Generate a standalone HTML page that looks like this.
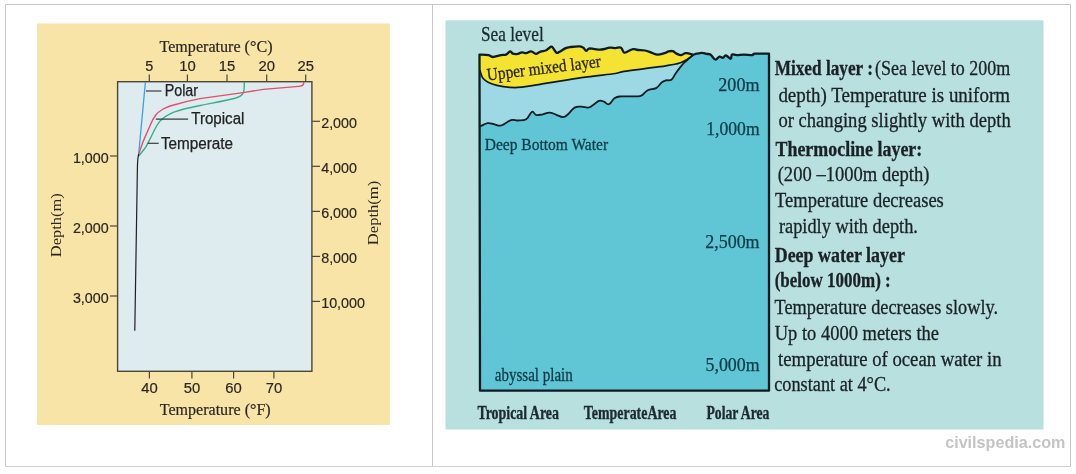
<!DOCTYPE html>
<html><head><meta charset="utf-8"><title>Ocean temperature</title>
<style>html,body{margin:0;padding:0;background:#fff;width:1076px;height:474px;overflow:hidden;font-family:"Liberation Sans",sans-serif}</style></head>
<body>
<svg width="1076" height="474" viewBox="0 0 1076 474" style="position:absolute;left:0;top:0;display:block;will-change:transform;opacity:0.999;filter:blur(0.4px)">
<rect x="0" y="0" width="1076" height="474" fill="#ffffff"/>
<path d="M5.5 466.5 L5.5 4.5 L1070.5 4.5 L1070.5 466.5" fill="none" stroke="#c6c6c6" stroke-width="1"/>
<line x1="5" y1="466.5" x2="1071" y2="466.5" stroke="#d2d2d2" stroke-width="1"/>
<line x1="432.5" y1="5" x2="432.5" y2="466" stroke="#c8c8c8" stroke-width="1"/>
<rect x="37" y="23.5" width="353" height="401.5" fill="#f7e4a6"/>
<rect x="117.6" y="81.7" width="194.3" height="289.6" fill="#deebef" stroke="#4b4636" stroke-width="1.4"/>
<line x1="149.3" y1="74.5" x2="149.3" y2="81.5" stroke="#4b4636" stroke-width="1.2"/>
<text x="149.3" y="71.2" font-family="Liberation Sans, sans-serif" font-size="15.5" font-weight="normal" fill="#2b2620" text-anchor="middle" textLength="8" lengthAdjust="spacingAndGlyphs" stroke="#2b2620" stroke-width="0.2">5</text>
<line x1="187.4" y1="74.5" x2="187.4" y2="81.5" stroke="#4b4636" stroke-width="1.2"/>
<text x="187.4" y="71.2" font-family="Liberation Sans, sans-serif" font-size="15.5" font-weight="normal" fill="#2b2620" text-anchor="middle" textLength="16.5" lengthAdjust="spacingAndGlyphs" stroke="#2b2620" stroke-width="0.2">10</text>
<line x1="227.0" y1="74.5" x2="227.0" y2="81.5" stroke="#4b4636" stroke-width="1.2"/>
<text x="227.0" y="71.2" font-family="Liberation Sans, sans-serif" font-size="15.5" font-weight="normal" fill="#2b2620" text-anchor="middle" textLength="16.5" lengthAdjust="spacingAndGlyphs" stroke="#2b2620" stroke-width="0.2">15</text>
<line x1="266.7" y1="74.5" x2="266.7" y2="81.5" stroke="#4b4636" stroke-width="1.2"/>
<text x="266.7" y="71.2" font-family="Liberation Sans, sans-serif" font-size="15.5" font-weight="normal" fill="#2b2620" text-anchor="middle" textLength="16.5" lengthAdjust="spacingAndGlyphs" stroke="#2b2620" stroke-width="0.2">20</text>
<line x1="305.7" y1="74.5" x2="305.7" y2="81.5" stroke="#4b4636" stroke-width="1.2"/>
<text x="305.7" y="71.2" font-family="Liberation Sans, sans-serif" font-size="15.5" font-weight="normal" fill="#2b2620" text-anchor="middle" textLength="16.5" lengthAdjust="spacingAndGlyphs" stroke="#2b2620" stroke-width="0.2">25</text>
<line x1="149.4" y1="371.5" x2="149.4" y2="378.5" stroke="#4b4636" stroke-width="1.2"/>
<text x="149.4" y="393.2" font-family="Liberation Sans, sans-serif" font-size="15.5" font-weight="normal" fill="#2b2620" text-anchor="middle" textLength="16.5" lengthAdjust="spacingAndGlyphs" stroke="#2b2620" stroke-width="0.2">40</text>
<line x1="191.9" y1="371.5" x2="191.9" y2="378.5" stroke="#4b4636" stroke-width="1.2"/>
<text x="191.9" y="393.2" font-family="Liberation Sans, sans-serif" font-size="15.5" font-weight="normal" fill="#2b2620" text-anchor="middle" textLength="16.5" lengthAdjust="spacingAndGlyphs" stroke="#2b2620" stroke-width="0.2">50</text>
<line x1="233.6" y1="371.5" x2="233.6" y2="378.5" stroke="#4b4636" stroke-width="1.2"/>
<text x="233.6" y="393.2" font-family="Liberation Sans, sans-serif" font-size="15.5" font-weight="normal" fill="#2b2620" text-anchor="middle" textLength="16.5" lengthAdjust="spacingAndGlyphs" stroke="#2b2620" stroke-width="0.2">60</text>
<line x1="273.9" y1="371.5" x2="273.9" y2="378.5" stroke="#4b4636" stroke-width="1.2"/>
<text x="273.9" y="393.2" font-family="Liberation Sans, sans-serif" font-size="15.5" font-weight="normal" fill="#2b2620" text-anchor="middle" textLength="16.5" lengthAdjust="spacingAndGlyphs" stroke="#2b2620" stroke-width="0.2">70</text>
<line x1="110" y1="156" x2="117" y2="156" stroke="#4b4636" stroke-width="1.2"/>
<text x="108.7" y="162.8" font-family="Liberation Sans, sans-serif" font-size="15.5" font-weight="normal" fill="#2b2620" text-anchor="end" textLength="35.8" lengthAdjust="spacingAndGlyphs" stroke="#2b2620" stroke-width="0.2">1,000</text>
<line x1="110" y1="226" x2="117" y2="226" stroke="#4b4636" stroke-width="1.2"/>
<text x="108.7" y="232.8" font-family="Liberation Sans, sans-serif" font-size="15.5" font-weight="normal" fill="#2b2620" text-anchor="end" textLength="35.8" lengthAdjust="spacingAndGlyphs" stroke="#2b2620" stroke-width="0.2">2,000</text>
<line x1="110" y1="296" x2="117" y2="296" stroke="#4b4636" stroke-width="1.2"/>
<text x="108.7" y="302.8" font-family="Liberation Sans, sans-serif" font-size="15.5" font-weight="normal" fill="#2b2620" text-anchor="end" textLength="35.8" lengthAdjust="spacingAndGlyphs" stroke="#2b2620" stroke-width="0.2">3,000</text>
<line x1="312" y1="121.3" x2="320" y2="121.3" stroke="#4b4636" stroke-width="1.2"/>
<text x="321.2" y="127.6" font-family="Liberation Sans, sans-serif" font-size="15.5" font-weight="normal" fill="#2b2620" text-anchor="start" textLength="35.8" lengthAdjust="spacingAndGlyphs" stroke="#2b2620" stroke-width="0.2">2,000</text>
<line x1="312" y1="166.3" x2="320" y2="166.3" stroke="#4b4636" stroke-width="1.2"/>
<text x="321.2" y="172.60000000000002" font-family="Liberation Sans, sans-serif" font-size="15.5" font-weight="normal" fill="#2b2620" text-anchor="start" textLength="35.8" lengthAdjust="spacingAndGlyphs" stroke="#2b2620" stroke-width="0.2">4,000</text>
<line x1="312" y1="211.4" x2="320" y2="211.4" stroke="#4b4636" stroke-width="1.2"/>
<text x="321.2" y="217.70000000000002" font-family="Liberation Sans, sans-serif" font-size="15.5" font-weight="normal" fill="#2b2620" text-anchor="start" textLength="35.8" lengthAdjust="spacingAndGlyphs" stroke="#2b2620" stroke-width="0.2">6,000</text>
<line x1="312" y1="256.4" x2="320" y2="256.4" stroke="#4b4636" stroke-width="1.2"/>
<text x="321.2" y="262.7" font-family="Liberation Sans, sans-serif" font-size="15.5" font-weight="normal" fill="#2b2620" text-anchor="start" textLength="35.8" lengthAdjust="spacingAndGlyphs" stroke="#2b2620" stroke-width="0.2">8,000</text>
<line x1="312" y1="301.4" x2="320" y2="301.4" stroke="#4b4636" stroke-width="1.2"/>
<text x="321.2" y="307.7" font-family="Liberation Sans, sans-serif" font-size="15.5" font-weight="normal" fill="#2b2620" text-anchor="start" textLength="43.8" lengthAdjust="spacingAndGlyphs" stroke="#2b2620" stroke-width="0.2">10,000</text>
<text x="216" y="52" font-family="Liberation Serif, serif" font-size="16" font-weight="normal" fill="#2b2620" text-anchor="middle" textLength="113" lengthAdjust="spacingAndGlyphs" stroke="#2b2620" stroke-width="0.2">Temperature (°C)</text>
<text x="215.2" y="414.6" font-family="Liberation Serif, serif" font-size="16" font-weight="normal" fill="#2b2620" text-anchor="middle" textLength="111" lengthAdjust="spacingAndGlyphs" stroke="#2b2620" stroke-width="0.2">Temperature (°F)</text>
<text x="0" y="0" font-family="Liberation Serif, serif" font-size="15.5" font-weight="normal" fill="#2b2620" text-anchor="middle" textLength="63.8" lengthAdjust="spacingAndGlyphs" transform="translate(61.2,225.3) rotate(-90)">Depth(m)</text>
<text x="0" y="0" font-family="Liberation Serif, serif" font-size="15.5" font-weight="normal" fill="#2b2620" text-anchor="middle" textLength="64.3" lengthAdjust="spacingAndGlyphs" transform="translate(378.3,213) rotate(-90)">Depth(m)</text>
<path d="M145.4 82 L138.7 154" fill="none" stroke="#3da0d8" stroke-width="1.3"/>
<path d="M244.3 82 L244.2 88 C244 94 242 96 236 98 C225 101 212 103 200 105.5 C190 107.5 180 110 173.8 112.2 C167 115 163 118 159.6 121.6 C156 126 155 129 153 133 L147.3 144.4 C145 149 142 152 138.7 156" fill="none" stroke="#35b08a" stroke-width="1.4"/>
<path d="M303.8 82 L303.5 84 C303 86 301 86.2 298.7 86.4 L263.3 89.4 L243 92.6 L200 98.6 C190 100.5 180 103 171.9 105.5 C166 107.5 164 108.5 162.4 109.5 C159 111.5 157 113.5 155.8 115 C153 118.5 151.5 122 150.1 125.4 L143.5 140.6 L138.7 154" fill="none" stroke="#e0506a" stroke-width="1.4"/>
<path d="M138.7 154 C137.6 158 137.5 162 137.4 168 L134.8 330.7" fill="none" stroke="#231f20" stroke-width="1.2"/>
<line x1="146" y1="91" x2="161.5" y2="91" stroke="#3a3a3a" stroke-width="1.2"/>
<line x1="155.8" y1="119.2" x2="188.1" y2="119.2" stroke="#3a3a3a" stroke-width="1.2"/>
<line x1="147.6" y1="143.3" x2="158.7" y2="143.3" stroke="#3a3a3a" stroke-width="1.2"/>
<text x="164.7" y="96.4" font-family="Liberation Sans, sans-serif" font-size="16" font-weight="normal" fill="#222222" text-anchor="start" textLength="33.4" lengthAdjust="spacingAndGlyphs" stroke="#222222" stroke-width="0.25">Polar</text>
<text x="191.3" y="123.8" font-family="Liberation Sans, sans-serif" font-size="16" font-weight="normal" fill="#222222" text-anchor="start" textLength="53.1" lengthAdjust="spacingAndGlyphs" stroke="#222222" stroke-width="0.25">Tropical</text>
<text x="160.9" y="148.7" font-family="Liberation Sans, sans-serif" font-size="16" font-weight="normal" fill="#222222" text-anchor="start" textLength="72.1" lengthAdjust="spacingAndGlyphs" stroke="#222222" stroke-width="0.25">Temperate</text>
<rect x="445.5" y="20.3" width="598" height="409.2" fill="#b8e0df"/>
<path d="M479.5 54.6 C481.3 54.7 485.9 54.6 488.5 55.1 C491.1 55.6 490.2 57.0 492.7 57 C495.2 57.0 498.4 55.6 501.1 55.1 C503.8 54.6 504.2 55.3 506 54.6 C507.8 53.9 508.8 51.6 510.2 51.4 C511.6 51.2 511.4 53.2 512.9 53.7 C514.4 54.2 516.0 54.2 517.8 53.9 C519.6 53.6 520.3 52.4 522 52.3 C523.7 52.2 524.4 53.4 526.2 53.2 C528.0 53.0 529.2 51.3 531.1 51.4 C533.0 51.5 534.1 53.8 535.9 53.9 C537.7 54.0 538.1 52.5 540.1 51.8 C542.1 51.1 544.0 51.1 545.7 50.5 C547.4 49.9 547.2 49.4 548.5 48.6 C549.8 47.8 550.5 45.9 552 46.7 C553.5 47.5 554.7 51.5 556.2 52.5 C557.7 53.5 557.8 52.6 559.6 51.8 C561.4 51.0 563.0 49.4 565.2 48.4 C567.4 47.4 568.0 47.4 570.8 47 C573.6 46.6 576.7 46.2 579.2 46.3 C581.7 46.4 581.9 46.8 583.3 47.7 C584.7 48.6 585.0 50.7 586.1 50.9 C587.2 51.1 587.2 49.0 588.9 48.6 C590.6 48.2 592.0 48.9 594.5 49.1 C597.0 49.3 598.4 49.8 601.5 49.5 C604.6 49.2 607.0 48.0 609.8 47.7 C612.6 47.4 613.2 48.1 615.4 48.1 C617.6 48.1 619.3 46.8 621 47.7 C622.7 48.6 622.6 51.8 624 52.5 C625.4 53.2 626.4 51.9 628.2 51.2 C630.0 50.5 631.2 49.3 633.1 49.1 C635.0 48.9 635.5 49.7 637.9 50 C640.3 50.3 642.1 49.9 644.9 50.5 C647.7 51.1 649.4 52.0 651.9 52.8 C654.4 53.6 655.0 54.5 657.5 54.6 C660.0 54.7 662.2 53.8 664.4 53.2 C666.6 52.6 666.9 51.8 668.6 51.4 C670.3 51.0 671.1 50.7 672.8 51.2 C674.5 51.7 675.3 53.1 677 53.9 C678.7 54.7 679.5 55.2 681.2 55.1 C682.9 55.0 683.6 53.5 685.3 53.2 C687.0 52.9 688.0 53.4 689.5 53.7 C691.0 54.0 691.6 54.6 693 54.6 C694.4 54.6 694.7 54.1 696.5 53.7 C698.3 53.3 700.1 52.8 702.1 52.8 C704.1 52.8 704.6 53.5 706.3 53.9 C708.0 54.3 708.6 53.5 710.4 54.6 C712.2 55.7 713.5 59.1 715.3 59.5 C717.1 59.9 718.0 57.0 719.5 56.7 C721.0 56.4 721.7 58.1 723 57.8 C724.3 57.5 724.3 55.1 725.8 55.3 C727.3 55.5 729.5 58.9 730.7 58.8 C731.9 58.7 730.8 55.3 732 54.6 C733.2 53.9 734.5 55.1 736.9 55.1 C739.3 55.1 740.8 54.6 743.9 54.6 C747.0 54.6 750.1 55.3 752.3 55.1 C754.5 54.9 751.7 54.0 755 53.7 C758.3 53.4 766.2 53.7 769 53.7 L769 390.7 L480 390.7 Z" fill="#60c6d5"/>
<path d="M479.5 54.6 C481.3 54.7 485.9 54.6 488.5 55.1 C491.1 55.6 490.2 57.0 492.7 57 C495.2 57.0 498.4 55.6 501.1 55.1 C503.8 54.6 504.2 55.3 506 54.6 C507.8 53.9 508.8 51.6 510.2 51.4 C511.6 51.2 511.4 53.2 512.9 53.7 C514.4 54.2 516.0 54.2 517.8 53.9 C519.6 53.6 520.3 52.4 522 52.3 C523.7 52.2 524.4 53.4 526.2 53.2 C528.0 53.0 529.2 51.3 531.1 51.4 C533.0 51.5 534.1 53.8 535.9 53.9 C537.7 54.0 538.1 52.5 540.1 51.8 C542.1 51.1 544.0 51.1 545.7 50.5 C547.4 49.9 547.2 49.4 548.5 48.6 C549.8 47.8 550.5 45.9 552 46.7 C553.5 47.5 554.7 51.5 556.2 52.5 C557.7 53.5 557.8 52.6 559.6 51.8 C561.4 51.0 563.0 49.4 565.2 48.4 C567.4 47.4 568.0 47.4 570.8 47 C573.6 46.6 576.7 46.2 579.2 46.3 C581.7 46.4 581.9 46.8 583.3 47.7 C584.7 48.6 585.0 50.7 586.1 50.9 C587.2 51.1 587.2 49.0 588.9 48.6 C590.6 48.2 592.0 48.9 594.5 49.1 C597.0 49.3 598.4 49.8 601.5 49.5 C604.6 49.2 607.0 48.0 609.8 47.7 C612.6 47.4 613.2 48.1 615.4 48.1 C617.6 48.1 619.3 46.8 621 47.7 C622.7 48.6 622.6 51.8 624 52.5 C625.4 53.2 626.4 51.9 628.2 51.2 C630.0 50.5 631.2 49.3 633.1 49.1 C635.0 48.9 635.5 49.7 637.9 50 C640.3 50.3 642.1 49.9 644.9 50.5 C647.7 51.1 649.4 52.0 651.9 52.8 C654.4 53.6 655.0 54.5 657.5 54.6 C660.0 54.7 662.2 53.8 664.4 53.2 C666.6 52.6 666.9 51.8 668.6 51.4 C670.3 51.0 671.1 50.7 672.8 51.2 C674.5 51.7 675.3 53.1 677 53.9 C678.7 54.7 679.5 55.2 681.2 55.1 C682.9 55.0 683.6 53.5 685.3 53.2 C687.0 52.9 688.0 53.4 689.5 53.7 C691.0 54.0 692.3 54.4 693 54.6 L693.7 54.6 C692.9 55.3 691.5 56.4 689.5 58.1 C687.5 59.8 685.8 61.0 683.9 63 C682.0 65.0 681.5 65.8 679.8 67.9 C678.1 70.0 677.3 71.1 675.6 73.5 C673.9 75.9 673.4 78.3 671.4 79.7 C669.4 81.1 667.8 79.8 665.8 80.4 C663.8 81.0 663.5 81.0 661.6 82.5 C659.7 84.0 658.9 86.6 656.1 88.1 C653.3 89.6 650.5 88.8 647.7 90.2 C644.9 91.6 644.3 93.9 642.1 95.1 C639.9 96.3 640.7 96.1 636.6 96.4 C632.5 96.7 625.9 96.1 621.5 96.4 C617.1 96.7 617.3 96.4 614.8 98 C612.3 99.6 611.2 103.5 609 104.2 C606.8 104.9 606.0 102.4 604 101.7 C602.0 101.0 601.2 100.2 599 100.9 C596.8 101.6 595.3 103.8 593.1 105.1 C590.9 106.4 590.4 107.3 588.1 107.6 C585.8 107.9 584.1 106.7 581.4 106.7 C578.7 106.7 577.4 106.1 574.7 107.6 C572.0 109.1 570.3 112.4 568 114.3 C565.7 116.2 565.3 117.0 563 117.1 C560.7 117.2 559.0 115.7 556.3 114.8 C553.6 113.9 552.3 112.7 549.6 112.6 C546.9 112.5 545.6 113.8 542.9 114.3 C540.2 114.8 538.4 115.6 536.2 115.1 C534.0 114.6 534.0 111.0 532 111.8 C530.0 112.6 529.0 117.6 526.2 119.3 C523.4 121.0 520.8 120.3 517.8 120.5 C514.8 120.7 514.4 119.1 511.1 120.1 C507.8 121.1 504.4 124.7 501.1 125.5 C497.8 126.3 497.1 124.8 494.4 124.3 C491.7 123.8 490.4 122.8 487.7 123.1 C485.0 123.4 482.5 125.4 481 126 C479.5 126.6 480.2 126.2 480 126.3 Z" fill="#9dd8e5"/>
<path d="M479.5 54.6 C481.3 54.7 485.9 54.6 488.5 55.1 C491.1 55.6 490.2 57.0 492.7 57 C495.2 57.0 498.4 55.6 501.1 55.1 C503.8 54.6 504.2 55.3 506 54.6 C507.8 53.9 508.8 51.6 510.2 51.4 C511.6 51.2 511.4 53.2 512.9 53.7 C514.4 54.2 516.0 54.2 517.8 53.9 C519.6 53.6 520.3 52.4 522 52.3 C523.7 52.2 524.4 53.4 526.2 53.2 C528.0 53.0 529.2 51.3 531.1 51.4 C533.0 51.5 534.1 53.8 535.9 53.9 C537.7 54.0 538.1 52.5 540.1 51.8 C542.1 51.1 544.0 51.1 545.7 50.5 C547.4 49.9 547.2 49.4 548.5 48.6 C549.8 47.8 550.5 45.9 552 46.7 C553.5 47.5 554.7 51.5 556.2 52.5 C557.7 53.5 557.8 52.6 559.6 51.8 C561.4 51.0 563.0 49.4 565.2 48.4 C567.4 47.4 568.0 47.4 570.8 47 C573.6 46.6 576.7 46.2 579.2 46.3 C581.7 46.4 581.9 46.8 583.3 47.7 C584.7 48.6 585.0 50.7 586.1 50.9 C587.2 51.1 587.2 49.0 588.9 48.6 C590.6 48.2 592.0 48.9 594.5 49.1 C597.0 49.3 598.4 49.8 601.5 49.5 C604.6 49.2 607.0 48.0 609.8 47.7 C612.6 47.4 613.2 48.1 615.4 48.1 C617.6 48.1 619.3 46.8 621 47.7 C622.7 48.6 622.6 51.8 624 52.5 C625.4 53.2 626.4 51.9 628.2 51.2 C630.0 50.5 631.2 49.3 633.1 49.1 C635.0 48.9 635.5 49.7 637.9 50 C640.3 50.3 642.1 49.9 644.9 50.5 C647.7 51.1 649.4 52.0 651.9 52.8 C654.4 53.6 655.0 54.5 657.5 54.6 C660.0 54.7 662.2 53.8 664.4 53.2 C666.6 52.6 666.9 51.8 668.6 51.4 C670.3 51.0 671.1 50.7 672.8 51.2 C674.5 51.7 675.3 53.1 677 53.9 C678.7 54.7 679.5 55.2 681.2 55.1 C682.9 55.0 683.6 53.5 685.3 53.2 C687.0 52.9 688.0 53.4 689.5 53.7 C691.0 54.0 692.3 54.4 693 54.6 L693 54.8 C692.0 55.6 690.7 57.2 688.1 58.8 C685.5 60.4 684.3 61.6 679.8 63 C675.3 64.4 672.8 64.7 665.8 65.8 C658.8 66.9 653.3 67.5 644.9 68.6 C636.5 69.7 629.9 70.4 624 71.4 C618.1 72.4 622.7 72.4 615.4 73.5 C608.1 74.6 598.7 75.4 587.5 76.9 C576.3 78.4 569.4 79.6 559.6 81.1 C549.8 82.6 546.2 83.4 538.7 84.6 C531.2 85.8 527.6 86.5 522 87.1 C516.4 87.7 515.9 87.8 510.9 87.4 C505.9 87.0 501.4 86.3 496.9 85.3 C492.4 84.3 491.3 83.9 488.5 82.5 C485.7 81.1 484.5 80.1 483 78.3 C481.5 76.5 481.5 75.2 480.9 73.5 C480.3 71.8 480.2 70.7 480 70 Z" fill="#f4e333"/>
<path d="M480 126.3 C480.2 126.2 479.5 126.6 481 126 C482.5 125.4 485.0 123.4 487.7 123.1 C490.4 122.8 491.7 123.8 494.4 124.3 C497.1 124.8 497.8 126.3 501.1 125.5 C504.4 124.7 507.8 121.1 511.1 120.1 C514.4 119.1 514.8 120.7 517.8 120.5 C520.8 120.3 523.4 121.0 526.2 119.3 C529.0 117.6 530.0 112.6 532 111.8 C534.0 111.0 534.0 114.6 536.2 115.1 C538.4 115.6 540.2 114.8 542.9 114.3 C545.6 113.8 546.9 112.5 549.6 112.6 C552.3 112.7 553.6 113.9 556.3 114.8 C559.0 115.7 560.7 117.2 563 117.1 C565.3 117.0 565.7 116.2 568 114.3 C570.3 112.4 572.0 109.1 574.7 107.6 C577.4 106.1 578.7 106.7 581.4 106.7 C584.1 106.7 585.8 107.9 588.1 107.6 C590.4 107.3 590.9 106.4 593.1 105.1 C595.3 103.8 596.8 101.6 599 100.9 C601.2 100.2 602.0 101.0 604 101.7 C606.0 102.4 606.8 104.9 609 104.2 C611.2 103.5 612.3 99.6 614.8 98 C617.3 96.4 617.1 96.7 621.5 96.4 C625.9 96.1 632.5 96.7 636.6 96.4 C640.7 96.1 639.9 96.3 642.1 95.1 C644.3 93.9 644.9 91.6 647.7 90.2 C650.5 88.8 653.3 89.6 656.1 88.1 C658.9 86.6 659.7 84.0 661.6 82.5 C663.5 81.0 663.8 81.0 665.8 80.4 C667.8 79.8 669.4 81.1 671.4 79.7 C673.4 78.3 673.9 75.9 675.6 73.5 C677.3 71.1 678.1 70.0 679.8 67.9 C681.5 65.8 682.0 65.0 683.9 63 C685.8 61.0 687.5 59.8 689.5 58.1 C691.5 56.4 692.9 55.3 693.7 54.6" fill="none" stroke="#0c1c22" stroke-width="1.8" stroke-linejoin="round"/>
<path d="M480 70 C480.2 70.7 480.3 71.8 480.9 73.5 C481.5 75.2 481.5 76.5 483 78.3 C484.5 80.1 485.7 81.1 488.5 82.5 C491.3 83.9 492.4 84.3 496.9 85.3 C501.4 86.3 505.9 87.0 510.9 87.4 C515.9 87.8 516.4 87.7 522 87.1 C527.6 86.5 531.2 85.8 538.7 84.6 C546.2 83.4 549.8 82.6 559.6 81.1 C569.4 79.6 576.3 78.4 587.5 76.9 C598.7 75.4 608.1 74.6 615.4 73.5 C622.7 72.4 618.1 72.4 624 71.4 C629.9 70.4 636.5 69.7 644.9 68.6 C653.3 67.5 658.8 66.9 665.8 65.8 C672.8 64.7 675.3 64.4 679.8 63 C684.3 61.6 685.5 60.4 688.1 58.8 C690.7 57.2 692.0 55.6 693 54.8" fill="none" stroke="#0c1c22" stroke-width="1.7" stroke-linejoin="round"/>
<path d="M479.5 54.6 C481.3 54.7 485.9 54.6 488.5 55.1 C491.1 55.6 490.2 57.0 492.7 57 C495.2 57.0 498.4 55.6 501.1 55.1 C503.8 54.6 504.2 55.3 506 54.6 C507.8 53.9 508.8 51.6 510.2 51.4 C511.6 51.2 511.4 53.2 512.9 53.7 C514.4 54.2 516.0 54.2 517.8 53.9 C519.6 53.6 520.3 52.4 522 52.3 C523.7 52.2 524.4 53.4 526.2 53.2 C528.0 53.0 529.2 51.3 531.1 51.4 C533.0 51.5 534.1 53.8 535.9 53.9 C537.7 54.0 538.1 52.5 540.1 51.8 C542.1 51.1 544.0 51.1 545.7 50.5 C547.4 49.9 547.2 49.4 548.5 48.6 C549.8 47.8 550.5 45.9 552 46.7 C553.5 47.5 554.7 51.5 556.2 52.5 C557.7 53.5 557.8 52.6 559.6 51.8 C561.4 51.0 563.0 49.4 565.2 48.4 C567.4 47.4 568.0 47.4 570.8 47 C573.6 46.6 576.7 46.2 579.2 46.3 C581.7 46.4 581.9 46.8 583.3 47.7 C584.7 48.6 585.0 50.7 586.1 50.9 C587.2 51.1 587.2 49.0 588.9 48.6 C590.6 48.2 592.0 48.9 594.5 49.1 C597.0 49.3 598.4 49.8 601.5 49.5 C604.6 49.2 607.0 48.0 609.8 47.7 C612.6 47.4 613.2 48.1 615.4 48.1 C617.6 48.1 619.3 46.8 621 47.7 C622.7 48.6 622.6 51.8 624 52.5 C625.4 53.2 626.4 51.9 628.2 51.2 C630.0 50.5 631.2 49.3 633.1 49.1 C635.0 48.9 635.5 49.7 637.9 50 C640.3 50.3 642.1 49.9 644.9 50.5 C647.7 51.1 649.4 52.0 651.9 52.8 C654.4 53.6 655.0 54.5 657.5 54.6 C660.0 54.7 662.2 53.8 664.4 53.2 C666.6 52.6 666.9 51.8 668.6 51.4 C670.3 51.0 671.1 50.7 672.8 51.2 C674.5 51.7 675.3 53.1 677 53.9 C678.7 54.7 679.5 55.2 681.2 55.1 C682.9 55.0 683.6 53.5 685.3 53.2 C687.0 52.9 688.0 53.4 689.5 53.7 C691.0 54.0 691.6 54.6 693 54.6 C694.4 54.6 694.7 54.1 696.5 53.7 C698.3 53.3 700.1 52.8 702.1 52.8 C704.1 52.8 704.6 53.5 706.3 53.9 C708.0 54.3 708.6 53.5 710.4 54.6 C712.2 55.7 713.5 59.1 715.3 59.5 C717.1 59.9 718.0 57.0 719.5 56.7 C721.0 56.4 721.7 58.1 723 57.8 C724.3 57.5 724.3 55.1 725.8 55.3 C727.3 55.5 729.5 58.9 730.7 58.8 C731.9 58.7 730.8 55.3 732 54.6 C733.2 53.9 734.5 55.1 736.9 55.1 C739.3 55.1 740.8 54.6 743.9 54.6 C747.0 54.6 750.1 55.3 752.3 55.1 C754.5 54.9 751.7 54.0 755 53.7 C758.3 53.4 766.2 53.7 769 53.7 L769 390.7 L480 390.7 Z" fill="none" stroke="#0c1c22" stroke-width="2.3" stroke-linejoin="round"/>
<text x="480.9" y="41.4" font-family="Liberation Serif, serif" font-size="21" font-weight="normal" fill="#1d2a30" text-anchor="start" textLength="62.8" lengthAdjust="spacingAndGlyphs" stroke="#1d2a30" stroke-width="0.3">Sea level</text>
<text x="0" y="0" font-family="Liberation Serif, serif" font-size="17.5" font-weight="normal" fill="#2a2608" text-anchor="start" textLength="114.5" lengthAdjust="spacingAndGlyphs" stroke="#2a2608" stroke-width="0.3" transform="translate(487.6,80.5) rotate(-6.9)">Upper mixed layer</text>
<text x="484.7" y="150" font-family="Liberation Serif, serif" font-size="17.5" font-weight="normal" fill="#0d3a47" text-anchor="start" textLength="123.4" lengthAdjust="spacingAndGlyphs" stroke="#0d3a47" stroke-width="0.3">Deep Bottom Water</text>
<text x="494.8" y="380.6" font-family="Liberation Serif, serif" font-size="18.5" font-weight="normal" fill="#0d3a47" text-anchor="start" textLength="78" lengthAdjust="spacingAndGlyphs" stroke="#0d3a47" stroke-width="0.3">abyssal plain</text>
<text x="759.6" y="91.3" font-family="Liberation Serif, serif" font-size="19" font-weight="normal" fill="#0d3a47" text-anchor="end" textLength="41.3" lengthAdjust="spacingAndGlyphs" stroke="#0d3a47" stroke-width="0.25">200m</text>
<text x="759.6" y="134.6" font-family="Liberation Serif, serif" font-size="19" font-weight="normal" fill="#0d3a47" text-anchor="end" textLength="53.3" lengthAdjust="spacingAndGlyphs" stroke="#0d3a47" stroke-width="0.25">1,000m</text>
<text x="759.6" y="247.5" font-family="Liberation Serif, serif" font-size="19" font-weight="normal" fill="#0d3a47" text-anchor="end" textLength="54.4" lengthAdjust="spacingAndGlyphs" stroke="#0d3a47" stroke-width="0.25">2,500m</text>
<text x="759.6" y="370.6" font-family="Liberation Serif, serif" font-size="19" font-weight="normal" fill="#0d3a47" text-anchor="end" textLength="54.1" lengthAdjust="spacingAndGlyphs" stroke="#0d3a47" stroke-width="0.25">5,000m</text>
<text x="477.4" y="418.5" font-family="Liberation Serif, serif" font-size="18" font-weight="bold" fill="#1d2a30" text-anchor="start" textLength="81.6" lengthAdjust="spacingAndGlyphs" stroke="#1d2a30" stroke-width="0.35">Tropical Area</text>
<text x="583.8" y="418.5" font-family="Liberation Serif, serif" font-size="18" font-weight="bold" fill="#1d2a30" text-anchor="start" textLength="92.7" lengthAdjust="spacingAndGlyphs" stroke="#1d2a30" stroke-width="0.35">TemperateArea</text>
<text x="706.5" y="418.5" font-family="Liberation Serif, serif" font-size="18" font-weight="bold" fill="#1d2a30" text-anchor="start" textLength="62.9" lengthAdjust="spacingAndGlyphs" stroke="#1d2a30" stroke-width="0.35">Polar Area</text>
<text x="774.7" y="75.0" font-family="Liberation Serif, serif" font-size="20" font-weight="bold" fill="#1a2226" text-anchor="start" textLength="98.3" lengthAdjust="spacingAndGlyphs" stroke="#1a2226" stroke-width="0.3">Mixed layer :</text>
<text x="875" y="75.0" font-family="Liberation Serif, serif" font-size="20" font-weight="normal" fill="#1a2226" text-anchor="start" textLength="135.3" lengthAdjust="spacingAndGlyphs" stroke="#1a2226" stroke-width="0.3">(Sea level to 200m</text>
<text x="778.4" y="101.5" font-family="Liberation Serif, serif" font-size="20" font-weight="normal" fill="#1a2226" text-anchor="start" textLength="231.6" lengthAdjust="spacingAndGlyphs" stroke="#1a2226" stroke-width="0.3">depth) Temperature is uniform</text>
<text x="778.4" y="127.39999999999999" font-family="Liberation Serif, serif" font-size="20" font-weight="normal" fill="#1a2226" text-anchor="start" textLength="232.4" lengthAdjust="spacingAndGlyphs" stroke="#1a2226" stroke-width="0.3">or changing slightly with depth</text>
<text x="775.5" y="155.9" font-family="Liberation Serif, serif" font-size="20" font-weight="bold" fill="#1a2226" text-anchor="start" textLength="146.8" lengthAdjust="spacingAndGlyphs" stroke="#1a2226" stroke-width="0.3">Thermocline layer:</text>
<text x="777.7" y="180.79999999999998" font-family="Liberation Serif, serif" font-size="20" font-weight="normal" fill="#1a2226" text-anchor="start" textLength="151.7" lengthAdjust="spacingAndGlyphs" stroke="#1a2226" stroke-width="0.3">(200 –1000m depth)</text>
<text x="775.0" y="207.2" font-family="Liberation Serif, serif" font-size="20" font-weight="normal" fill="#1a2226" text-anchor="start" textLength="168.8" lengthAdjust="spacingAndGlyphs" stroke="#1a2226" stroke-width="0.3">Temperature decreases</text>
<text x="778.9" y="233.4" font-family="Liberation Serif, serif" font-size="20" font-weight="normal" fill="#1a2226" text-anchor="start" textLength="139.0" lengthAdjust="spacingAndGlyphs" stroke="#1a2226" stroke-width="0.3">rapidly with depth.</text>
<text x="774.7" y="261.70000000000005" font-family="Liberation Serif, serif" font-size="20" font-weight="bold" fill="#1a2226" text-anchor="start" textLength="130.3" lengthAdjust="spacingAndGlyphs" stroke="#1a2226" stroke-width="0.3">Deep water layer</text>
<text x="774.7" y="287.0" font-family="Liberation Serif, serif" font-size="20" font-weight="bold" fill="#1a2226" text-anchor="start" textLength="116.0" lengthAdjust="spacingAndGlyphs" stroke="#1a2226" stroke-width="0.3">(below 1000m) :</text>
<text x="774.5" y="313.8" font-family="Liberation Serif, serif" font-size="20" font-weight="normal" fill="#1a2226" text-anchor="start" textLength="223.5" lengthAdjust="spacingAndGlyphs" stroke="#1a2226" stroke-width="0.3">Temperature decreases slowly.</text>
<text x="774.7" y="339.5" font-family="Liberation Serif, serif" font-size="20" font-weight="normal" fill="#1a2226" text-anchor="start" textLength="164.3" lengthAdjust="spacingAndGlyphs" stroke="#1a2226" stroke-width="0.3">Up to 4000 meters the</text>
<text x="778.1" y="365.8" font-family="Liberation Serif, serif" font-size="20" font-weight="normal" fill="#1a2226" text-anchor="start" textLength="223.5" lengthAdjust="spacingAndGlyphs" stroke="#1a2226" stroke-width="0.3">temperature of ocean water in</text>
<text x="774.2" y="390.6" font-family="Liberation Serif, serif" font-size="20" font-weight="normal" fill="#1a2226" text-anchor="start" textLength="116.5" lengthAdjust="spacingAndGlyphs" stroke="#1a2226" stroke-width="0.3">constant at 4°C.</text>
<text x="945.2" y="447.8" font-family="Liberation Sans, sans-serif" font-size="16.5" font-weight="bold" fill="#c4c4c4" text-anchor="start" textLength="120.2" lengthAdjust="spacingAndGlyphs">civilspedia.com</text>
</svg>
</body></html>
